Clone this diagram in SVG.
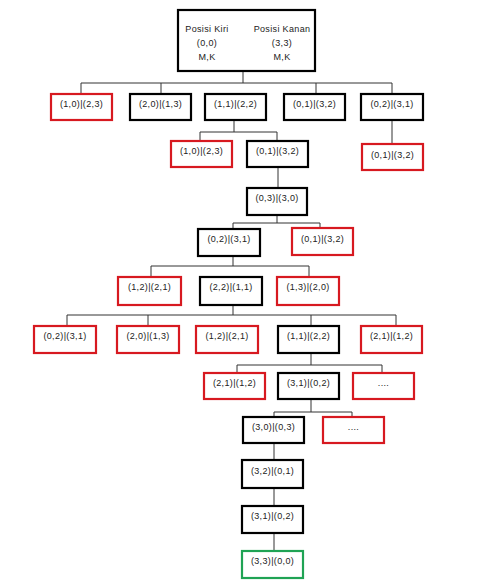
<svg xmlns="http://www.w3.org/2000/svg" width="481" height="586" viewBox="0 0 481 586">
<style>
.n rect{fill:#fff;stroke-width:2.2}
.b rect{stroke:#000}
.r rect{stroke:#d71920}
.g rect{stroke:#1fa354}
text{font-family:"Liberation Sans",Arial,sans-serif;font-size:9px;fill:#222;text-anchor:middle;letter-spacing:0.35px}
#edges path{fill:none;stroke:#333;stroke-width:1}
</style>
<rect width="481" height="586" fill="#fff"/>
<g id="edges">
<path d="M243 71V83M81 94V83H392V94M161 83V94M316 83V94"/>
<path d="M234 120V132M200 141V132H277V141"/>
<path d="M392 120V144"/>
<path d="M278 167V188"/>
<path d="M277 215V223M233 229V223H320V228"/>
<path d="M233 256V266M151 277V266H309V277"/>
<path d="M233 305V315M67 326V315H396V326M148 315V326M311 315V326"/>
<path d="M311 353V365M237 373V365H382V373"/>
<path d="M311 399V412M274 417V412H352V417"/>
<path d="M274 443V460M274 488V506M274 533V551"/>
</g>
<g id="root" class="n b"><rect x="178" y="10" width="137" height="61"/>
<text x="207" y="32">Posisi  Kiri</text><text x="207" y="46">(0,0)</text><text x="207" y="60">M,K</text>
<text x="282" y="32">Posisi  Kanan</text><text x="282" y="46">(3,3)</text><text x="282" y="60">M,K</text></g>
<g id="n1" class="n r"><rect x="51" y="94" width="61" height="26"/><text x="81.5" y="107">(1,0)|(2,3)</text></g>
<g id="n2" class="n b"><rect x="130" y="94" width="61" height="26"/><text x="160.5" y="107">(2,0)|(1,3)</text></g>
<g id="n3" class="n b"><rect x="205" y="94" width="61" height="26"/><text x="235.5" y="107">(1,1)|(2,2)</text></g>
<g id="n4" class="n b"><rect x="284" y="94" width="61" height="26"/><text x="314.5" y="107">(0,1)|(3,2)</text></g>
<g id="n5" class="n b"><rect x="361" y="94" width="62" height="26"/><text x="392" y="107">(0,2)|(3,1)</text></g>
<g id="n6" class="n r"><rect x="171" y="141" width="61" height="26"/><text x="201.5" y="154">(1,0)|(2,3)</text></g>
<g id="n7" class="n b"><rect x="247" y="141" width="61" height="26"/><text x="277.5" y="154">(0,1)|(3,2)</text></g>
<g id="n8" class="n r"><rect x="362" y="144" width="61" height="26"/><text x="392.5" y="158">(0,1)|(3,2)</text></g>
<g id="n9" class="n b"><rect x="247" y="188" width="60" height="27"/><text x="277" y="201">(0,3)|(3,0)</text></g>
<g id="n10" class="n b"><rect x="198" y="229" width="62" height="27"/><text x="229" y="242">(0,2)|(3,1)</text></g>
<g id="n11" class="n r"><rect x="292" y="228" width="61" height="27"/><text x="322.5" y="242">(0,1)|(3,2)</text></g>
<g id="n12" class="n r"><rect x="118" y="277" width="63" height="28"/><text x="149.5" y="290">(1,2)|(2,1)</text></g>
<g id="n13" class="n b"><rect x="200" y="277" width="62" height="28"/><text x="231" y="290">(2,2)|(1,1)</text></g>
<g id="n14" class="n r"><rect x="277" y="277" width="62" height="28"/><text x="308" y="290">(1,3)|(2,0)</text></g>
<g id="n15" class="n r"><rect x="34" y="326" width="62" height="27"/><text x="65" y="339">(0,2)|(3,1)</text></g>
<g id="n16" class="n r"><rect x="117" y="326" width="62" height="27"/><text x="148" y="339">(2,0)|(1,3)</text></g>
<g id="n17" class="n r"><rect x="196" y="326" width="62" height="27"/><text x="227" y="339">(1,2)|(2,1)</text></g>
<g id="n18" class="n b"><rect x="278" y="326" width="61" height="27"/><text x="308.5" y="339">(1,1)|(2,2)</text></g>
<g id="n19" class="n r"><rect x="361" y="326" width="61" height="27"/><text x="391.5" y="339">(2,1)|(1,2)</text></g>
<g id="n20" class="n r"><rect x="204" y="373" width="61" height="26"/><text x="234.5" y="386">(2,1)|(1,2)</text></g>
<g id="n21" class="n b"><rect x="278" y="373" width="61" height="26"/><text x="308.5" y="386">(3,1)|(0,2)</text></g>
<g id="n22" class="n r"><rect x="353" y="373" width="61" height="26"/><text x="383.5" y="386">....</text></g>
<g id="n23" class="n b"><rect x="243" y="417" width="61" height="26"/><text x="273.5" y="430">(3,0)|(0,3)</text></g>
<g id="n24" class="n r"><rect x="323" y="417" width="61" height="26"/><text x="353.5" y="430">....</text></g>
<g id="n25" class="n b"><rect x="242" y="460" width="61" height="28"/><text x="272.5" y="474">(3,2)|(0,1)</text></g>
<g id="n26" class="n b"><rect x="242" y="506" width="61" height="27"/><text x="272.5" y="519">(3,1)|(0,2)</text></g>
<g id="n27" class="n g"><rect x="242" y="551" width="61" height="27"/><text x="272.5" y="564">(3,3)|(0,0)</text></g>
</svg>
